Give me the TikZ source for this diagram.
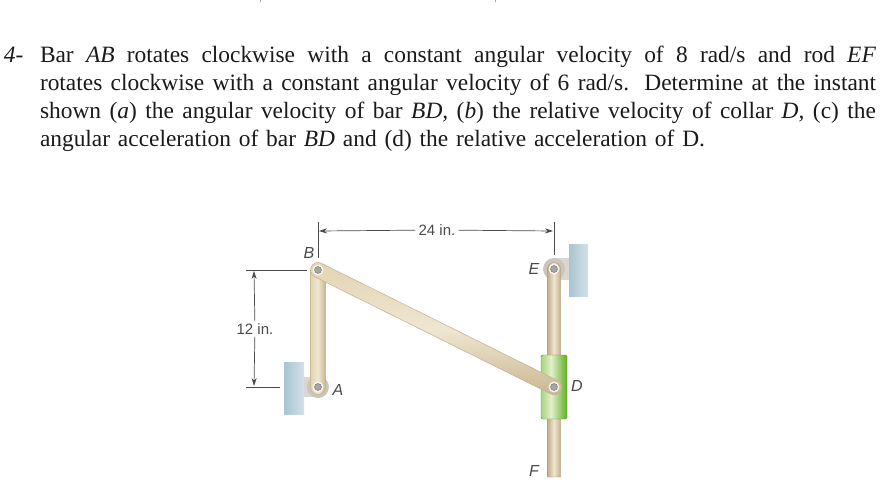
\documentclass[tikz,border=0pt]{standalone}
\usepackage{fontspec}
\setmainfont{Liberation Serif}
\newfontfamily\lblfont{Liberation Sans}
\usetikzlibrary{arrows.meta}
\definecolor{txt}{HTML}{1A1A1A}
\definecolor{dim}{HTML}{4A4A4A}
\definecolor{tanL}{HTML}{EFE6D2}
\definecolor{tanM}{HTML}{E2D3B2}
\definecolor{tanD}{HTML}{C4AF88}
\definecolor{wallL}{HTML}{A9C4D2}
\definecolor{wallR}{HTML}{D3E1E8}
\definecolor{brk}{HTML}{DAD7D0}
\definecolor{grnL}{HTML}{E3F0CC}
\definecolor{grnD}{HTML}{5FAE24}
\tikzset{
  x=1pt,y=-1pt,
  line/.style={font=\fontsize{23.4}{27}\selectfont,text=txt,anchor=base west,inner sep=0pt,outer sep=0pt},
  lbl/.style={font=\lblfont\fontsize{15}{16}\selectfont,text=dim,inner sep=0pt},
  plbl/.style={font=\lblfont\itshape\fontsize{16}{16}\selectfont,text=dim,inner sep=0pt},
  dimline/.style={draw=dim,line width=0.7pt},
  wall/.style={left color=wallL,right color=wallR,draw=none},
  bracket/.style={fill=brk,draw=none},
  rodfill/.style={left color=tanD,right color=tanD,middle color=tanL},
  barfill/.style={top color=tanM,bottom color=tanD!80!tanM,middle color=tanL,draw=tanD,line width=0.5pt},
  pinring/.style={circle,fill=white!60!tanL,draw=none,minimum size=11pt,inner sep=0pt},
  pinhole/.style={circle,fill=gray!70,draw=gray!85!black,line width=0.4pt,minimum size=7pt,inner sep=0pt},
}
\begin{document}
\begin{tikzpicture}
\useasboundingbox (0,0) rectangle (884,482);
\fill[white] (0,0) rectangle (884,482);
% crop remnants
\draw[gray!70,line width=0.5pt] (260,0) -- (260,1.5) (495,0) -- (495,1.5);
% text
\node[line] (n4) at (4,62) {\itshape 4-};
\node[line] (l1) at (40,62) {\makebox[836pt][s]{Bar \textit{AB} rotates clockwise with a constant angular velocity of 8 rad/s and rod \textit{EF}}};
\node[line] (l2) at (40,90) {\makebox[836pt][s]{rotates clockwise with a constant angular velocity of 6 rad/s. Determine at the instant}};
\node[line] (l3) at (40,118) {\makebox[836pt][s]{shown (\textit{a}) the angular velocity of bar \textit{BD,} (\textit{b}) the relative velocity of collar \textit{D,} (c) the}};
\node[line] (l4) at (40,146) {\makebox[665pt][s]{angular acceleration of bar \textit{BD} and (d) the relative acceleration of D.}};
% key points
\coordinate (A) at (318,387);
\coordinate (B) at (318,270);
\coordinate (D) at (554,387);
\coordinate (E) at (554,269);
% walls & brackets
\fill[wall] (284,362) rectangle (304,414);
\fill[wall] (569,244) rectangle (588,296);
\fill[bracket] (304,377) rectangle (318,397);
\fill[brk!92!black] (318,387) circle[radius=11];
\fill[bracket] (554,258) rectangle (569,280);
\fill[brk!92!black] (554,269) circle[radius=11];
% rod EF
\path[rodfill] (547.5,269) arc[start angle=180,end angle=360,radius=6.5] -- (560.5,477) -- (547.5,477) -- cycle;
\draw[tanD!85!black,line width=0.3pt] (547.5,269) arc[start angle=180,end angle=360,radius=6.5] -- (560.5,477) -- (547.5,477) -- cycle;
% collar
\begin{scope}
\clip[rounded corners=1.5pt] (541,355) rectangle (567,419);
\fill[left color=grnL!55!grnD,right color=grnL] (541,355) rectangle (551,419);
\fill[left color=grnL,right color=grnD] (551,355) rectangle (567,419);
\end{scope}
\draw[rounded corners=1.5pt,draw=grnD!90!black,line width=0.4pt] (541,355) rectangle (567,419);
% bar AB
\path[left color=tanM,right color=tanD!85!tanM,middle color=tanL,draw=tanD,line width=0.5pt]
  (310.5,270) -- (325.5,270) -- (325.5,387) arc[start angle=0,end angle=180,radius=7.5] -- cycle;
% bar BD
\begin{scope}[shift={(318,270)},rotate=-26.4]
\path[barfill] (0,-7.5) -- (264,-7.5) arc[start angle=-90,end angle=90,radius=7.5] -- (0,7.5) arc[start angle=90,end angle=270,radius=7.5] -- cycle;
\end{scope}
% pins
\node[pinring] (rA) at (A) {};
\node[pinring] (rB) at (B) {};
\node[pinring] (rD) at (D) {};
\node[pinring] (rE) at (E) {};
\node[pinhole] (pA) at (A) {};
\node[pinhole] (pB) at (B) {};
\node[pinhole] (pD) at (D) {};
\node[pinhole] (pE) at (E) {};
% dimensions
\coordinate (t1) at (246,270); \coordinate (t2) at (307,270);
\coordinate (t3) at (246,387); \coordinate (t4) at (280,387);
\draw[dimline] (t1) -- (t2);
\draw[dimline] (t3) -- (t4);
\coordinate (v1) at (318,222); \coordinate (v2) at (318,258);
\coordinate (v3) at (554,222); \coordinate (v4) at (554,255);
\draw[dimline] (v1) -- (v2);
\draw[dimline] (v3) -- (v4);
\node[lbl,fill=white,inner xsep=3pt,inner ysep=2pt] (d12) at (255,329) {12 in.};
\node[lbl,fill=white,inner xsep=3pt,inner ysep=2pt] (d24) at (437,230) {24 in.};
\coordinate (a1) at (254,271); \coordinate (a2) at (254,386);
\coordinate (b1) at (319,231); \coordinate (b2) at (553,231);
\draw[dimline,{Stealth[length=8pt,width=5pt]}-] (a1) -- (d12);
\draw[dimline,-{Stealth[length=8pt,width=5pt]}] (d12) -- (a2);
\draw[dimline,{Stealth[length=8pt,width=5pt]}-] (b1) -- (d24);
\draw[dimline,-{Stealth[length=8pt,width=5pt]}] (d24) -- (b2);
% labels
\node[plbl] (lA) at (338,390) {A};
\node[plbl] (lB) at (309,253) {B};
\node[plbl] (lD) at (577,386) {D};
\node[plbl] (lE) at (534,269) {E};
\node[plbl] (lF) at (534,471) {F};
\end{tikzpicture}
\end{document}
